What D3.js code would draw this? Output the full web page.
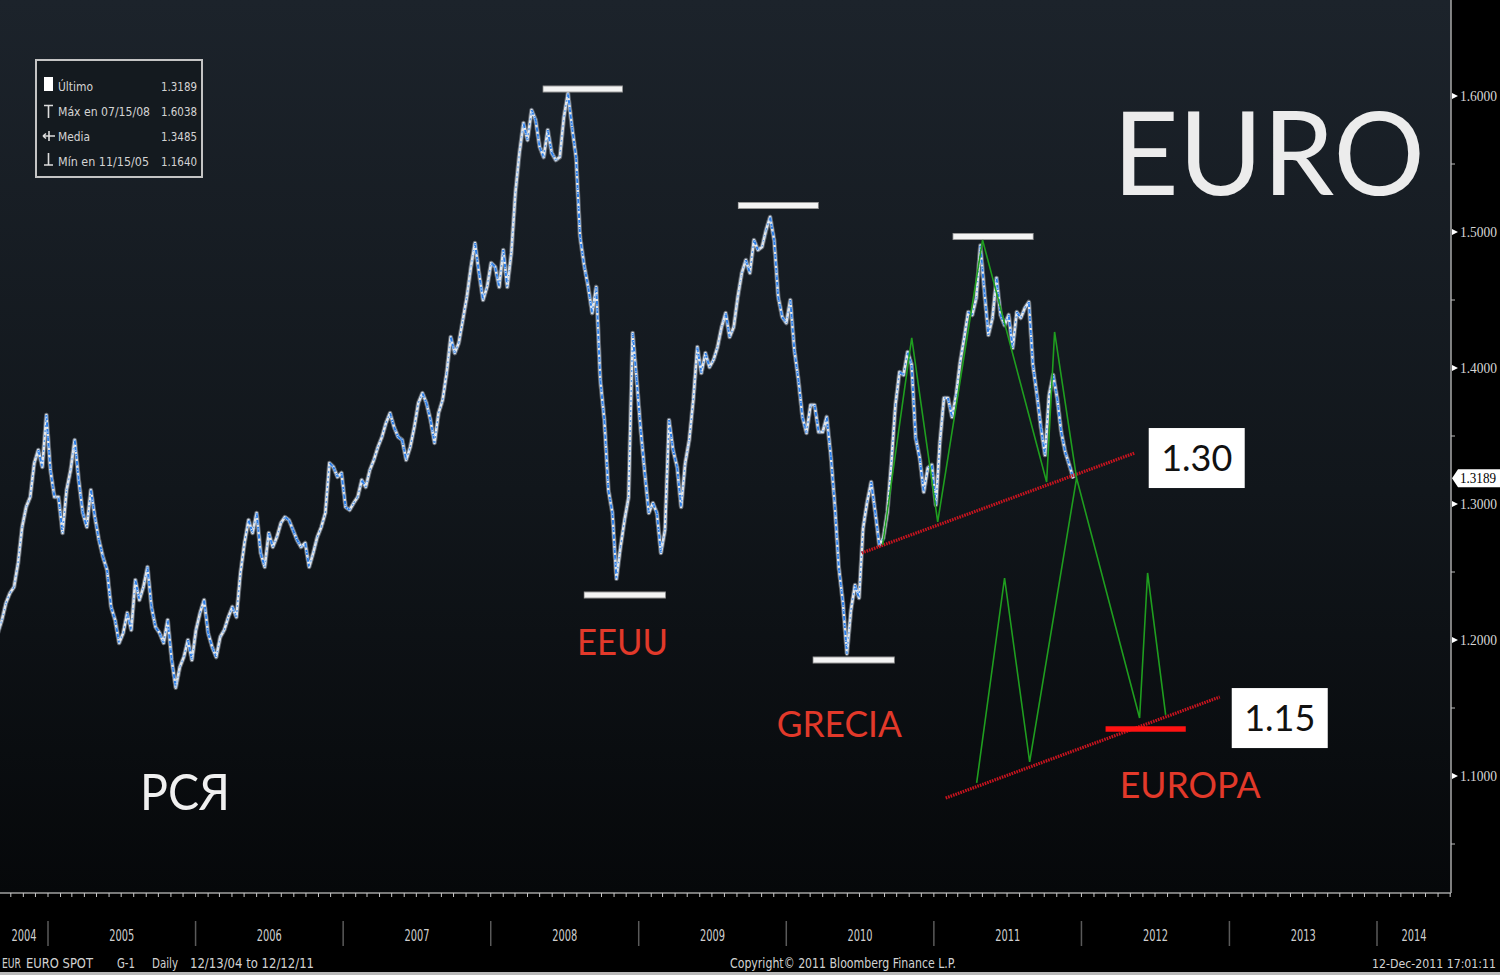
<!DOCTYPE html>
<html><head><meta charset="utf-8">
<script src="https://cdn.jsdelivr.net/npm/d3@7"></script>
<style>
html,body{margin:0;padding:0;background:#000;}
svg{display:block;}
</style></head>
<body>
<svg id="chart" width="1500" height="975"></svg>
<script>
// ---------------- DATA ----------------
const seriesStart = "2004-08-30";   // first sample, then one every stepDays
const stepDays = 10;
const closes = [
1.2051,1.2147,1.2272,1.2346,1.2390,1.2566,1.2831,1.2978,1.3051,1.3301,
1.3397,1.3272,1.3654,1.3250,1.3051,1.3051,1.2787,1.3103,1.3250,1.3471,
1.3176,1.2934,1.2831,1.3103,1.2904,1.2735,1.2610,1.2515,1.2243,1.2147,
1.1978,1.2051,1.2199,1.2074,1.2441,1.2294,1.2390,1.2537,1.2243,1.2096,
1.2051,1.1978,1.2147,1.1853,1.1650,1.1801,1.1875,1.2000,1.1853,1.2074,
1.2199,1.2294,1.2051,1.1949,1.1875,1.2022,1.2074,1.2169,1.2243,1.2169,
1.2493,1.2713,1.2882,1.2787,1.2934,1.2640,1.2537,1.2787,
1.2684,1.2757,1.2860,1.2904,1.2882,1.2809,1.2735,1.2684,1.2713,1.2537,
1.2640,1.2757,1.2831,1.2934,1.3301,1.3272,1.3199,1.3228,1.2978,1.2956,
1.3007,1.3051,1.3176,1.3125,1.3250,1.3324,1.3419,1.3493,1.3596,1.3669,
1.3566,1.3493,1.3471,1.3324,1.3419,1.3566,1.3743,1.3816,1.3743,1.3618,
1.3449,1.3669,1.3765,1.3963,1.4228,1.4110,1.4184,1.4353,1.4522,1.4743,
1.4919,1.4699,1.4500,1.4596,1.4772,1.4743,1.4596,1.4868,1.4596,1.4846,
1.5287,1.5581,1.5801,1.5676,1.5897,1.5824,1.5625,
1.5551,1.5750,1.5581,1.5529,1.5551,1.5846,1.6020,1.5772,1.5551,1.4963,
1.4757,1.4596,1.4404,1.4596,1.3912,1.3618,1.3103,1.2934,1.2450,1.2684,
1.2882,1.3051,1.4257,1.3912,1.3544,1.3228,1.2934,1.3007,1.2934,1.2640,
1.2809,1.3618,1.3397,1.3272,1.2978,1.3301,1.3471,1.3765,1.4154,1.3963,
1.4110,1.4007,1.4059,1.4154,1.4301,1.4404,1.4228,1.4301,1.4522,1.4699,
1.4794,1.4699,1.4941,1.4868,1.4890,1.5015,1.5110,1.4941,1.4522,1.4375,
1.4331,1.4500,1.4132,1.3912,1.3640,1.3522,
1.3728,1.3728,1.3529,1.3529,1.3640,1.3360,1.2993,1.2529,1.2279,1.1900,
1.2221,1.2404,1.2309,1.2824,1.3015,1.3162,1.2941,1.2699,1.2750,1.2941,
1.3309,1.3728,1.3971,1.3949,1.4118,1.4022,1.3485,1.3338,1.3088,1.3265,
1.3287,1.2993,1.3456,1.3779,1.3779,1.3640,1.3801,1.4044,1.4221,1.4412,
1.4390,1.4515,1.4900,1.4559,1.4243,1.4368,1.4662,1.4390,1.4316,1.4390,
1.4147,1.4412,1.4368,1.4441,1.4485,1.4022,1.3801,1.3559,1.3360,1.3801,
1.3949,1.3779,1.3529,1.3382,1.3287,1.3189
];
const yearLabels = [2004,2005,2006,2007,2008,2009,2010,2011,2012,2013,2014];
const priceTicks = [1.1,1.2,1.3,1.4,1.5,1.6];
const minorPriceTicks = [1.05,1.15,1.25,1.35,1.45,1.55];
const lastPrice = 1.3189;
const legendLabels = ["Último","Máx en 07/15/08","Media","Mín en 11/15/05"];
const legendValues = ["1.3189","1.6038","1.3485","1.1640"];
// annotation points: [decimal year, price]
const levelBars = [ // white horizontal marks: [fromYear, toYear, price]
  [2008.351,2008.893,1.6051],[2009.672,2010.220,1.5195],[2011.127,2011.676,1.4967],
  [2008.629,2009.184,1.2331],[2010.179,2010.735,1.1853]];
const zigzagUpper = [[2010.653,1.2699],[2010.850,1.4221],[2011.026,1.2868],[2011.330,1.4941],[2011.764,1.3162],[2011.818,1.4265],[2011.967,1.3191]];
const zigzagLower = [[2011.290,1.0949],[2011.479,1.2456],[2011.649,1.1103],[2011.967,1.3191],[2012.393,1.1426],[2012.447,1.2493],[2012.569,1.1449]];
const trendLines = [[[2010.511,1.2640],[2012.360,1.3375]],[[2011.080,1.0838],[2012.935,1.1581]]];
const targetBar = [2012.163,2012.705,1.1346];
const redLabels = [["EEUU",2008.890,1.1890],["GRECIA",2010.359,1.1287],["EUROPA",2012.735,1.0838]];
const boxLabels = [["1.30",2012.779,1.3338],["1.15",2013.341,1.1426]];
const titleLabel = ["EURO",2013.267,1.5272];
const cornerLabel = ["PCЯ",2005.928,1.0750];
const footerLeft = [["EUR",2,19],["EURO SPOT",26,67],["G-1",117,18],["Daily",152,26],["12/13/04 to 12/12/11",190,124]];
const footerMid = "Copyright© 2011 Bloomberg Finance L.P.";
const footerRight = "12-Dec-2011 17:01:11";

// ---------------- CHART ----------------
const W=1500,H=975, PR=1451, PB=893;
const svg=d3.select("#chart");
const defs=svg.append("defs");
const g1=defs.append("linearGradient").attr("id","bg").attr("x1",0).attr("y1",0).attr("x2",0).attr("y2",1);
g1.append("stop").attr("offset","0%").attr("stop-color","#1c232b");
g1.append("stop").attr("offset","55%").attr("stop-color","#11161b");
g1.append("stop").attr("offset","100%").attr("stop-color","#06080a");
defs.append("clipPath").attr("id","clip").append("rect").attr("x",0).attr("y",0).attr("width",PR).attr("height",PB);

svg.append("rect").attr("width",W).attr("height",H).attr("fill","#000");
svg.append("rect").attr("width",PR).attr("height",PB).attr("fill","url(#bg)");
svg.append("rect").attr("x",0).attr("y",972).attr("width",W).attr("height",3).attr("fill","#b8b8b8");

const x=d3.scaleTime().domain([new Date(2005,0,1),new Date(2014,0,1)]).range([48,1377]);
const y=d3.scaleLinear().domain([1.1,1.6]).range([776,96]);
const yr=v=>{const Y=Math.floor(v),a=new Date(Y,0,1),b=new Date(Y+1,0,1);return new Date(+a+(v-Y)*(b-a));};
const px=p=>[x(yr(p[0])),y(p[1])];

const plot=svg.append("g").attr("clip-path","url(#clip)");

// price series
const start=d3.timeParse("%Y-%m-%d")(seriesStart);
const pts=closes.map((v,i)=>({date:d3.timeDay.offset(start,i*stepDays),v}));
const line=d3.line().x(d=>x(d.date)).y(d=>y(d.v));
plot.append("path").datum(pts).attr("d",line).attr("fill","none").attr("stroke","#9aa3ad").attr("stroke-width",4.6).attr("stroke-opacity",0.55).attr("stroke-linejoin","round");
plot.append("path").datum(pts).attr("d",line).attr("fill","none").attr("stroke","#dfe4ea").attr("stroke-width",2.6).attr("stroke-linejoin","round");
plot.selectAll("line.seg").data(pts.slice(1)).join("line").attr("class","seg")
  .attr("x1",(d,i)=>x(pts[i].date)).attr("y1",(d,i)=>y(pts[i].v))
  .attr("x2",d=>x(d.date)).attr("y2",d=>y(d.v))
  .attr("stroke",(d,i)=>d.v<pts[i].v?"#2a7de8":"#5d9be8").attr("stroke-width",(d,i)=>d.v<pts[i].v?2:1.4)
  .attr("stroke-dasharray",(d,i)=>d.v<pts[i].v?"5,2":"2,3");
plot.append("path").datum(pts).attr("d",line).attr("fill","none").attr("stroke","#ffffff").attr("stroke-width",1).attr("stroke-dasharray","1,4").attr("stroke-opacity",0.8);

// white level bars
levelBars.forEach(b=>{
  plot.append("line").attr("x1",x(yr(b[0]))).attr("x2",x(yr(b[1]))).attr("y1",y(b[2])).attr("y2",y(b[2]))
    .attr("stroke","#9a9a9a").attr("stroke-width",7);
  plot.append("line").attr("x1",x(yr(b[0]))+0.8).attr("x2",x(yr(b[1]))-0.8).attr("y1",y(b[2])).attr("y2",y(b[2]))
    .attr("stroke","#f4f4f4").attr("stroke-width",5);
});

// trend lines (dotted red)
trendLines.forEach(t=>{
  plot.append("path").attr("d",d3.line()(t.map(px))).attr("fill","none")
    .attr("stroke","#c8141f").attr("stroke-width",3.2).attr("stroke-dasharray","1.6,1");
});
// green zigzags
[zigzagUpper,zigzagLower].forEach(z=>{
  plot.append("path").attr("d",d3.line()(z.map(px))).attr("fill","none")
    .attr("stroke","#1f9e1f").attr("stroke-width",1.6).attr("stroke-linejoin","miter");
});
// target bar
plot.append("line").attr("x1",x(yr(targetBar[0]))).attr("x2",x(yr(targetBar[1])))
  .attr("y1",y(targetBar[2])).attr("y2",y(targetBar[2])).attr("stroke","#ff1212").attr("stroke-width",5.5);

// labels
const lblFont="Lato, 'Open Sans', sans-serif";
const redLens=[91,125,141];
redLabels.forEach((l,i)=>{
  svg.append("text").attr("x",x(yr(l[1]))-redLens[i]/2).attr("y",y(l[2]))
    .attr("font-family",lblFont).attr("font-size",37).attr("fill","#e2392a")
    .attr("textLength",redLens[i]).attr("lengthAdjust","spacingAndGlyphs").text(l[0]);
});
boxLabels.forEach(l=>{
  const cx=x(yr(l[1])), cy=y(l[2]);
  svg.append("rect").attr("x",cx-48).attr("y",cy-30).attr("width",96).attr("height",60).attr("fill","#ffffff");
  svg.append("text").attr("x",cx).attr("y",cy+13).attr("text-anchor","middle")
    .attr("font-family",lblFont).attr("font-size",36).attr("fill","#111").text(l[0]);
});
svg.append("text").attr("x",x(yr(titleLabel[1]))-156).attr("y",y(titleLabel[2]))
  .attr("font-family",lblFont).attr("font-size",117).attr("fill","#ececec")
  .attr("textLength",312).attr("lengthAdjust","spacingAndGlyphs").text(titleLabel[0]);
svg.append("text").attr("x",x(yr(cornerLabel[1]))-45).attr("y",y(cornerLabel[2]))
  .attr("font-family",lblFont).attr("font-size",50).attr("fill","#f0f0f0")
  .attr("textLength",90).attr("lengthAdjust","spacingAndGlyphs").text(cornerLabel[0]);

// legend
const lg=svg.append("g");
lg.append("rect").attr("x",36).attr("y",60).attr("width",166).attr("height",117).attr("fill","#141a1f").attr("stroke","#c4c4c4").attr("stroke-width",2);
const lgFont="'Liberation Sans Narrow','DejaVu Sans Condensed','Liberation Sans',sans-serif";
const lgBase=[91,116,141,166];
legendLabels.forEach((t,i)=>{
  lg.append("text").attr("x",58).attr("y",lgBase[i]).attr("font-family",lgFont).attr("font-size",13).attr("fill","#d4d4d4")
    .attr("textLength",[35,92,32,91][i]).attr("lengthAdjust","spacingAndGlyphs").text(t);
  lg.append("text").attr("x",197).attr("y",lgBase[i]).attr("text-anchor","end").attr("font-family",lgFont).attr("font-size",13).attr("fill","#d4d4d4")
    .attr("textLength",36).attr("lengthAdjust","spacingAndGlyphs").text(legendValues[i]);
});
lg.append("rect").attr("x",44).attr("y",77).attr("width",9).attr("height",14).attr("fill","#fff");
lg.append("path").attr("d","M44,105.5H53M48.5,105.5V118").attr("stroke","#ddd").attr("stroke-width",1.6).attr("fill","none");
lg.append("path").attr("d","M43,136H55M49,131V141M43,136l3,-2.5M43,136l3,2.5").attr("stroke","#ddd").attr("stroke-width",1.6).attr("fill","none");
lg.append("path").attr("d","M48.5,153V165M44,165H53").attr("stroke","#ddd").attr("stroke-width",1.6).attr("fill","none");

// right axis
svg.append("line").attr("x1",PR).attr("x2",PR).attr("y1",0).attr("y2",PB).attr("stroke","#a8a8a8").attr("stroke-width",1.5);
const axFont="'Liberation Serif','DejaVu Serif',serif";
priceTicks.forEach(t=>{
  const ty=y(t);
  svg.append("path").attr("d",`M${PR+1},${ty-3}L${PR+7},${ty}L${PR+1},${ty+3}Z`).attr("fill","#fff");
  svg.append("text").attr("x",1460).attr("y",ty+5).attr("font-family",axFont).attr("font-size",14).attr("fill","#d6d6d6")
    .attr("textLength",37).attr("lengthAdjust","spacingAndGlyphs").text(d3.format(".4f")(t));
});
minorPriceTicks.forEach(t=>{
  svg.append("line").attr("x1",PR).attr("x2",PR+4).attr("y1",y(t)).attr("y2",y(t)).attr("stroke","#bbb").attr("stroke-width",1);
});
const ly=y(lastPrice);
svg.append("path").attr("d",`M${PR+1},${ly}L${PR+7},${ly-9}H1500V${ly+9}H${PR+7}Z`).attr("fill","#fff");
svg.append("text").attr("x",1460).attr("y",ly+5).attr("font-family",axFont).attr("font-size",14).attr("fill","#000")
  .attr("textLength",36).attr("lengthAdjust","spacingAndGlyphs").text(d3.format(".4f")(lastPrice));

// bottom axis
svg.append("line").attr("x1",0).attr("x2",PR).attr("y1",PB).attr("y2",PB).attr("stroke","#a0a0a0").attr("stroke-width",1.6);
const months=d3.timeMonth.range(yr(2004.6),yr(2014.5)).filter(d=>x(d)>=0&&x(d)<=PR);
svg.selectAll("line.mt").data(months).join("line").attr("class","mt")
  .attr("x1",d=>x(d)).attr("x2",d=>x(d)).attr("y1",PB).attr("y2",PB+4).attr("stroke","#c8c8c8").attr("stroke-width",1);
const bFont="'Liberation Sans Narrow','DejaVu Sans Condensed','Liberation Sans',sans-serif";
yearLabels.forEach(Y=>{
  const a=Math.max(0,x(new Date(Y,0,1))), b=Math.min(PR,x(new Date(Y+1,0,1)));
  if(Y>2004) svg.append("line").attr("x1",x(new Date(Y,0,1))).attr("x2",x(new Date(Y,0,1))).attr("y1",921).attr("y2",946).attr("stroke","#5a5a5a").attr("stroke-width",1.5);
  svg.append("text").attr("x",(a+b)/2).attr("y",941).attr("text-anchor","middle").attr("font-family",bFont).attr("font-size",15)
    .attr("fill","#cfcfcf").attr("textLength",25).attr("lengthAdjust","spacingAndGlyphs").text(Y);
});
footerLeft.forEach(f=>{
  svg.append("text").attr("x",f[1]).attr("y",968).attr("font-family",bFont).attr("font-size",14).attr("fill","#d2d2d2")
    .attr("textLength",f[2]).attr("lengthAdjust","spacingAndGlyphs").text(f[0]);
});
svg.append("text").attr("x",730).attr("y",968).attr("font-family",bFont).attr("font-size",14).attr("fill","#d2d2d2")
  .attr("textLength",226).attr("lengthAdjust","spacingAndGlyphs").text(footerMid);
svg.append("text").attr("x",1496).attr("y",968).attr("text-anchor","end").attr("font-family",bFont).attr("font-size",12.5).attr("fill","#d2d2d2")
  .attr("textLength",124).attr("lengthAdjust","spacingAndGlyphs").text(footerRight);
</script>
</body></html>
